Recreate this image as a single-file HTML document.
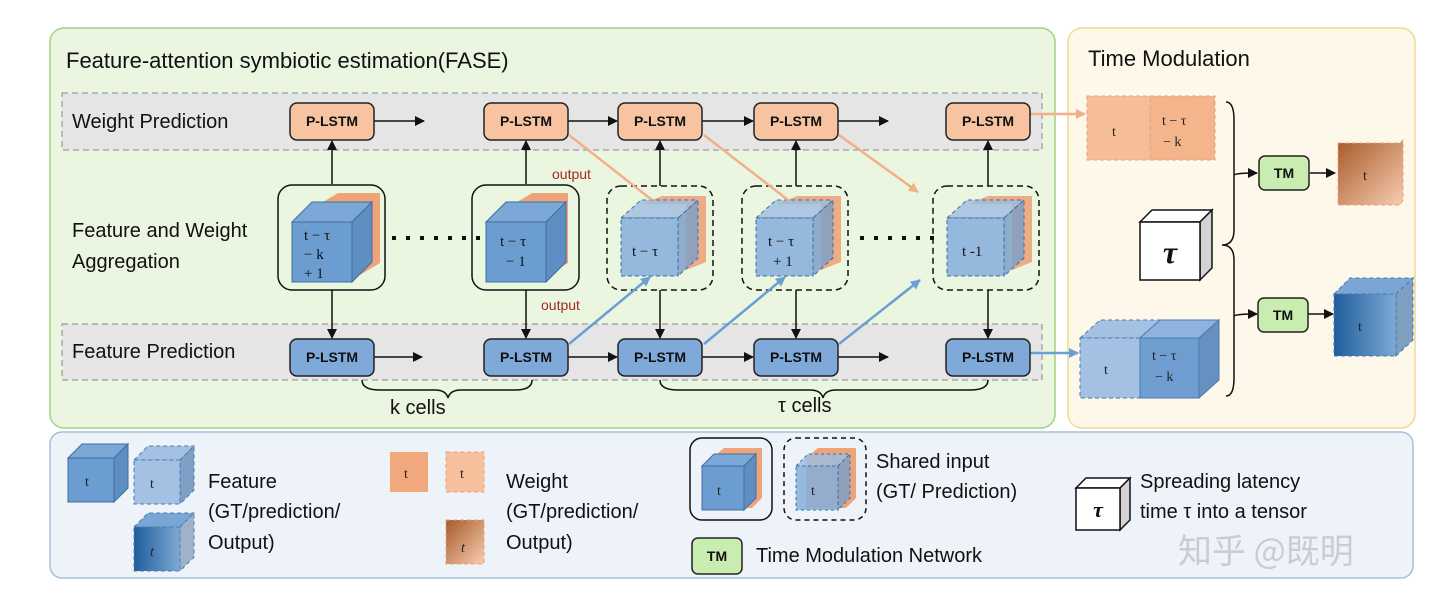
<!DOCTYPE html>
<html><head><meta charset="utf-8"><style>
html,body{margin:0;padding:0;background:#fff;width:1440px;height:615px;overflow:hidden}
svg{display:block}
.s{font-family:"Liberation Sans",sans-serif}
.r{font-family:"Liberation Serif",serif}
.pl{font-family:"Liberation Sans",sans-serif;font-weight:bold;font-size:14px;text-anchor:middle}
</style></head><body>
<svg width="1440" height="615" viewBox="0 0 1440 615" xmlns="http://www.w3.org/2000/svg">
<defs>
<marker id="ab" markerWidth="10" markerHeight="10" refX="9" refY="5" orient="auto" markerUnits="userSpaceOnUse"><path d="M0,0 L10,5 L0,10 z" fill="#111"/></marker>
<marker id="ao" markerWidth="10" markerHeight="10" refX="9" refY="5" orient="auto" markerUnits="userSpaceOnUse"><path d="M0,0 L10,5 L0,10 z" fill="#f2b088"/></marker>
<marker id="au" markerWidth="10" markerHeight="10" refX="9" refY="5" orient="auto" markerUnits="userSpaceOnUse"><path d="M0,0 L10,5 L0,10 z" fill="#6a9fd2"/></marker>
<linearGradient id="go" x1="0" y1="0" x2="1" y2="1"><stop offset="0" stop-color="#a85a2a"/><stop offset="1" stop-color="#f6cdb0"/></linearGradient>
<linearGradient id="gb" x1="0" y1="0" x2="1" y2="0"><stop offset="0" stop-color="#1f5e9c"/><stop offset="1" stop-color="#7fa9d4"/></linearGradient>
</defs>

<rect x="50" y="28" width="1005" height="400" rx="14" fill="#ebf6e0" stroke="#9fd17f" stroke-width="1.5"/>
<rect x="1068" y="28" width="347" height="400" rx="14" fill="#fdf8e9" stroke="#f1d98e" stroke-width="1.5"/>
<rect x="50" y="432" width="1363" height="146" rx="12" fill="#eef3f9" stroke="#a5bfdc" stroke-width="1.5"/>

<text x="66" y="68" class="s" font-size="22" fill="#111">Feature-attention symbiotic estimation(FASE)</text>
<text x="1088" y="66" class="s" font-size="22" fill="#111">Time Modulation</text>

<rect x="62" y="93" width="980" height="57" fill="#e5e5e5" stroke="#888" stroke-dasharray="6,4"/>
<rect x="62" y="324" width="980" height="56" fill="#e5e5e5" stroke="#888" stroke-dasharray="6,4"/>
<text x="72" y="128" class="s" font-size="20" fill="#111">Weight Prediction</text>
<text x="72" y="358" class="s" font-size="20" fill="#111">Feature Prediction</text>
<text x="72" y="237" class="s" font-size="20" fill="#111">Feature and Weight</text>
<text x="72" y="268" class="s" font-size="20" fill="#111">Aggregation</text>

<rect x="278" y="185" width="107" height="105" rx="14" fill="none" stroke="#111" stroke-width="1.5"/>
<rect x="472" y="185" width="107" height="105" rx="14" fill="none" stroke="#111" stroke-width="1.5"/>
<rect x="607" y="186" width="106" height="104" rx="14" fill="none" stroke="#111" stroke-width="1.5" stroke-dasharray="6,4"/>
<rect x="742" y="186" width="106" height="104" rx="14" fill="none" stroke="#111" stroke-width="1.5" stroke-dasharray="6,4"/>
<rect x="933" y="186" width="106" height="104" rx="14" fill="none" stroke="#111" stroke-width="1.5" stroke-dasharray="6,4"/>

<g>
<polygon points="318,205 338,193 380,193 380,263 360,275 360,205" fill="#eda47a"/>
<polygon points="292,222 312,202 372,202 352,222" fill="#7ba8d6" stroke="#3f6e9e"/>
<polygon points="352,222 372,202 372,262 352,282" fill="#5f8fc2" stroke="#3f6e9e"/>
<rect x="292" y="222" width="60" height="60" fill="#6b9dd0" stroke="#3f6e9e"/>
<text x="304" y="240" class="r" font-size="15" fill="#111">t − τ</text>
<text x="304" y="259" class="r" font-size="15" fill="#111">− k</text>
<text x="304" y="278" class="r" font-size="15" fill="#111">+ 1</text>
</g>
<g>
<polygon points="512,205 532,193 568,193 568,263 548,275 548,205" fill="#eda47a"/>
<polygon points="486,222 506,202 566,202 546,222" fill="#7ba8d6" stroke="#3f6e9e"/>
<polygon points="546,222 566,202 566,262 546,282" fill="#5f8fc2" stroke="#3f6e9e"/>
<rect x="486" y="222" width="60" height="60" fill="#6b9dd0" stroke="#3f6e9e"/>
<text x="500" y="246" class="r" font-size="15" fill="#111">t − τ</text>
<text x="506" y="266" class="r" font-size="15" fill="#111">− 1</text>
</g>
<g id="dc1">
<polygon points="642,204 662,196 706,196 706,262 686,270 686,204" fill="#eda47a" opacity="0.9"/>
<polygon points="621,218 641,200 698,200 678,218" fill="#9dbde0" fill-opacity="0.8" stroke="#3f6e9e" stroke-dasharray="4,3"/>
<polygon points="678,218 698,200 698,258 678,276" fill="#7f9fc6" fill-opacity="0.85" stroke="#3f6e9e" stroke-dasharray="4,3"/>
<rect x="621" y="218" width="57" height="58" fill="#86aedb" fill-opacity="0.85" stroke="#3f6e9e" stroke-dasharray="4,3"/>
</g>
<text x="632" y="256" class="r" font-size="15" fill="#111">t − τ</text>
<use href="#dc1" x="135"/>
<text x="768" y="246" class="r" font-size="15" fill="#111">t − τ</text>
<text x="773" y="266" class="r" font-size="15" fill="#111">+ 1</text>
<use href="#dc1" x="326"/>
<text x="962" y="256" class="r" font-size="15" fill="#111">t -1</text>

<line x1="392" y1="238" x2="480" y2="238" stroke="#111" stroke-width="4" stroke-dasharray="4,10"/>
<line x1="860" y1="238" x2="940" y2="238" stroke="#111" stroke-width="4" stroke-dasharray="4,10"/>

<g stroke="#111" stroke-width="1.5" marker-end="url(#ab)">
<line x1="332" y1="184" x2="332" y2="141"/>
<line x1="526" y1="184" x2="526" y2="141"/>
<line x1="660" y1="186" x2="660" y2="141"/>
<line x1="796" y1="186" x2="796" y2="141"/>
<line x1="988" y1="186" x2="988" y2="141"/>
<line x1="332" y1="290" x2="332" y2="338"/>
<line x1="526" y1="290" x2="526" y2="338"/>
<line x1="660" y1="290" x2="660" y2="338"/>
<line x1="796" y1="290" x2="796" y2="338"/>
<line x1="988" y1="290" x2="988" y2="338"/>
<line x1="374" y1="121" x2="424" y2="121"/>
<line x1="568" y1="121" x2="617" y2="121"/>
<line x1="702" y1="121" x2="753" y2="121"/>
<line x1="838" y1="121" x2="888" y2="121"/>
<line x1="374" y1="357" x2="422" y2="357"/>
<line x1="568" y1="357" x2="617" y2="357"/>
<line x1="702" y1="357" x2="753" y2="357"/>
<line x1="838" y1="357" x2="888" y2="357"/>
</g>

<g stroke="#f2b088" stroke-width="2.5">
<line x1="569" y1="135" x2="652" y2="200"/>
<line x1="704" y1="135" x2="788" y2="200"/>
<line x1="839" y1="135" x2="918" y2="192" marker-end="url(#ao)"/>
<line x1="1030" y1="114" x2="1085" y2="114" marker-end="url(#ao)"/>
</g>
<g stroke="#6a9fd2" stroke-width="2.5">
<line x1="569" y1="344" x2="650" y2="277" marker-end="url(#au)"/>
<line x1="704" y1="344" x2="785" y2="277" marker-end="url(#au)"/>
<line x1="839" y1="344" x2="920" y2="280" marker-end="url(#au)"/>
<line x1="1030" y1="353" x2="1078" y2="353" marker-end="url(#au)"/>
</g>
<text x="552" y="179" class="s" font-size="14" fill="#a62a1e">output</text>
<text x="541" y="310" class="s" font-size="14" fill="#a62a1e">output</text>

<g stroke="#222" stroke-width="1.5">
<rect x="290" y="103" width="84" height="37" rx="7" fill="#f7c3a0"/>
<rect x="484" y="103" width="84" height="37" rx="7" fill="#f7c3a0"/>
<rect x="618" y="103" width="84" height="37" rx="7" fill="#f7c3a0"/>
<rect x="754" y="103" width="84" height="37" rx="7" fill="#f7c3a0"/>
<rect x="946" y="103" width="84" height="37" rx="7" fill="#f7c3a0"/>
<rect x="290" y="339" width="84" height="37" rx="7" fill="#7fa9d9"/>
<rect x="484" y="339" width="84" height="37" rx="7" fill="#7fa9d9"/>
<rect x="618" y="339" width="84" height="37" rx="7" fill="#7fa9d9"/>
<rect x="754" y="339" width="84" height="37" rx="7" fill="#7fa9d9"/>
<rect x="946" y="339" width="84" height="37" rx="7" fill="#7fa9d9"/>
</g>
<g class="pl" fill="#111">
<text x="332" y="126">P-LSTM</text><text x="526" y="126">P-LSTM</text><text x="660" y="126">P-LSTM</text><text x="796" y="126">P-LSTM</text><text x="988" y="126">P-LSTM</text>
<text x="332" y="362">P-LSTM</text><text x="526" y="362">P-LSTM</text><text x="660" y="362">P-LSTM</text><text x="796" y="362">P-LSTM</text><text x="988" y="362">P-LSTM</text>
</g>

<path d="M362,380 Q362,390 380,390 L435,390 Q446,390 448,398 Q450,390 461,390 L515,390 Q532,390 532,380" fill="none" stroke="#111" stroke-width="1.5"/>
<path d="M660,380 Q660,390 678,390 L810,390 Q821,390 823,398 Q825,390 836,390 L970,390 Q988,390 988,380" fill="none" stroke="#111" stroke-width="1.5"/>
<text x="390" y="414" class="s" font-size="20" fill="#111">k cells</text>
<text x="778" y="412" class="s" font-size="20" fill="#111">τ cells</text>

<rect x="1087" y="96" width="64" height="64" fill="#f7bd98" stroke="#e8a07a" stroke-dasharray="4,3"/>
<rect x="1150" y="96" width="65" height="64" fill="#f4b48c" stroke="#e8a07a" stroke-dasharray="4,3"/>
<text x="1112" y="136" class="r" font-size="14" fill="#222">t</text>
<text x="1162" y="125" class="r" font-size="14" fill="#222">t − τ</text>
<text x="1163" y="146" class="r" font-size="14" fill="#222">− k</text>

<polygon points="1080,338 1100,320 1160,320 1140,338" fill="#a4c1e3" stroke="#4a7bb0" stroke-dasharray="4,3"/>
<polygon points="1140,338 1160,320 1219,320 1199,338" fill="#8fb3dc" stroke="#4a7bb0"/>
<polygon points="1199,338 1219,320 1219,380 1199,398" fill="#6590c0" stroke="#4a7bb0"/>
<rect x="1080" y="338" width="60" height="60" fill="#a4c1e3" stroke="#4a7bb0" stroke-dasharray="4,3"/>
<rect x="1140" y="338" width="59" height="60" fill="#6f9dd0" stroke="#4a7bb0"/>
<text x="1104" y="374" class="r" font-size="14" fill="#222">t</text>
<text x="1152" y="360" class="r" font-size="14" fill="#222">t − τ</text>
<text x="1155" y="381" class="r" font-size="14" fill="#222">− k</text>

<path d="M1226,102 Q1234,102 1234,120 L1234,230 Q1234,245 1222,245 Q1234,245 1234,260 L1234,378 Q1234,396 1226,396" fill="none" stroke="#111" stroke-width="1.5"/>
<g stroke="#111" stroke-width="1.5" marker-end="url(#ab)">
<path d="M1234,175 Q1236,173 1257,173" fill="none"/>
<path d="M1234,316 Q1236,314 1257,314" fill="none"/>
<line x1="1310" y1="173" x2="1335" y2="173"/>
<line x1="1308" y1="314" x2="1333" y2="314"/>
</g>
<rect x="1259" y="156" width="50" height="34" rx="6" fill="#c9ecb0" stroke="#222" stroke-width="1.5"/>
<rect x="1258" y="298" width="50" height="34" rx="6" fill="#c9ecb0" stroke="#222" stroke-width="1.5"/>
<text x="1284" y="178" class="pl" fill="#111">TM</text>
<text x="1283" y="320" class="pl" fill="#111">TM</text>

<polygon points="1338,143 1400,143 1403,140 1403,200 1400,205 1338,205" fill="url(#go)" stroke="#e8a07a" stroke-dasharray="4,3"/>
<text x="1363" y="180" class="r" font-size="14" fill="#222">t</text>

<polygon points="1334,294 1350,278 1413,278 1396,294" fill="#7aa6d6" stroke="#4a7bb0" stroke-dasharray="4,3"/>
<polygon points="1396,294 1413,278 1413,340 1396,356" fill="#7f9fc0" stroke="#4a7bb0" stroke-dasharray="4,3"/>
<rect x="1334" y="294" width="62" height="62" fill="url(#gb)" stroke="#4a7bb0" stroke-dasharray="4,3"/>
<text x="1358" y="331" class="r" font-size="14" fill="#222">t</text>

<polygon points="1140,222 1152,210 1212,210 1200,222" fill="#fff" stroke="#111" stroke-width="1.5"/>
<polygon points="1200,222 1212,210 1212,268 1200,280" fill="#d3d3d3" stroke="#111" stroke-width="1.5"/>
<rect x="1140" y="222" width="60" height="58" fill="#fff" stroke="#111" stroke-width="1.5"/>
<text x="1170" y="263" class="r" font-size="32" font-weight="bold" font-style="italic" text-anchor="middle" fill="#111">τ</text>

<polygon points="68,458 82,444 128,444 114,458" fill="#7ba8d6" stroke="#3f6e9e"/>
<polygon points="114,458 128,444 128,488 114,502" fill="#5f8fc2" stroke="#3f6e9e"/>
<rect x="68" y="458" width="46" height="44" fill="#6b9dd0" stroke="#3f6e9e"/>
<text x="85" y="486" class="r" font-size="14" fill="#222">t</text>
<polygon points="134,460 148,446 194,446 180,460" fill="#a4c1e3" stroke="#4a7bb0" stroke-dasharray="4,3"/>
<polygon points="180,460 194,446 194,490 180,504" fill="#7f9fc6" stroke="#4a7bb0" stroke-dasharray="4,3"/>
<rect x="134" y="460" width="46" height="44" fill="#a4c1e3" stroke="#4a7bb0" stroke-dasharray="4,3"/>
<text x="150" y="488" class="r" font-size="14" fill="#222">t</text>
<polygon points="134,527 148,513 194,513 180,527" fill="#7aa6d6" stroke="#4a7bb0" stroke-dasharray="4,3"/>
<polygon points="180,527 194,513 194,557 180,571" fill="#9fb3c8" stroke="#4a7bb0" stroke-dasharray="4,3"/>
<rect x="134" y="527" width="46" height="44" fill="url(#gb)" stroke="#4a7bb0" stroke-dasharray="4,3"/>
<text x="150" y="556" class="r" font-size="14" font-style="italic" fill="#222">t</text>
<text x="208" y="488" class="s" font-size="20" fill="#111">Feature</text>
<text x="208" y="518" class="s" font-size="20" fill="#111">(GT/prediction/</text>
<text x="208" y="549" class="s" font-size="20" fill="#111">Output)</text>

<rect x="390" y="452" width="38" height="40" fill="#f0a87c"/>
<text x="404" y="478" class="r" font-size="14" fill="#222">t</text>
<rect x="446" y="452" width="38" height="40" fill="#f7c09c" stroke="#e8a07a" stroke-dasharray="4,3"/>
<text x="460" y="478" class="r" font-size="14" fill="#222">t</text>
<rect x="446" y="520" width="38" height="44" fill="url(#go)" stroke="#e8a07a" stroke-dasharray="4,3"/>
<text x="461" y="552" class="r" font-size="14" font-style="italic" fill="#222">t</text>
<text x="506" y="488" class="s" font-size="20" fill="#111">Weight</text>
<text x="506" y="518" class="s" font-size="20" fill="#111">(GT/prediction/</text>
<text x="506" y="549" class="s" font-size="20" fill="#111">Output)</text>

<rect x="690" y="438" width="82" height="82" rx="12" fill="none" stroke="#111" stroke-width="1.5"/>
<polygon points="712,458 724,448 762,448 762,498 752,508 712,508" fill="#eda47a"/>
<polygon points="702,466 714,454 756,454 744,466" fill="#7ba8d6" stroke="#3f6e9e"/>
<polygon points="744,466 756,454 756,498 744,510" fill="#5f8fc2" stroke="#3f6e9e"/>
<rect x="702" y="466" width="42" height="44" fill="#6b9dd0" stroke="#3f6e9e"/>
<text x="717" y="495" class="r" font-size="14" fill="#222">t</text>
<rect x="784" y="438" width="82" height="82" rx="12" fill="none" stroke="#111" stroke-width="1.5" stroke-dasharray="5,4"/>
<polygon points="806,458 818,448 856,448 856,498 846,508 806,508" fill="#eda47a"/>
<polygon points="796,466 808,454 850,454 838,466" fill="#9dbde0" fill-opacity="0.85" stroke="#3f6e9e" stroke-dasharray="3,3"/>
<polygon points="838,466 850,454 850,498 838,510" fill="#7f9fc6" fill-opacity="0.85" stroke="#3f6e9e" stroke-dasharray="3,3"/>
<rect x="796" y="466" width="42" height="44" fill="#86aedb" fill-opacity="0.85" stroke="#3f6e9e" stroke-dasharray="3,3"/>
<text x="811" y="495" class="r" font-size="14" fill="#222">t</text>
<text x="876" y="468" class="s" font-size="20" fill="#111">Shared input</text>
<text x="876" y="498" class="s" font-size="20" fill="#111">(GT/ Prediction)</text>

<rect x="692" y="538" width="50" height="36" rx="6" fill="#c9ecb0" stroke="#222" stroke-width="1.5"/>
<text x="717" y="561" class="pl" fill="#111">TM</text>
<text x="756" y="562" class="s" font-size="20" fill="#111">Time Modulation Network</text>

<polygon points="1076,488 1086,478 1130,478 1120,488" fill="#fff" stroke="#111" stroke-width="1.5"/>
<polygon points="1120,488 1130,478 1130,520 1120,530" fill="#d3d3d3" stroke="#111" stroke-width="1.5"/>
<rect x="1076" y="488" width="44" height="42" fill="#fff" stroke="#111" stroke-width="1.5"/>
<text x="1098" y="517" class="r" font-size="22" font-weight="bold" font-style="italic" text-anchor="middle" fill="#111">τ</text>
<text x="1140" y="488" class="s" font-size="20" fill="#111">Spreading latency</text>
<text x="1140" y="518" class="s" font-size="20" fill="#111">time τ into a tensor</text>

<text x="1178" y="563" font-family="'Noto Sans CJK SC',sans-serif" font-size="34" fill="#c8cdd3">知乎 @既明</text>
</svg>
</body></html>
